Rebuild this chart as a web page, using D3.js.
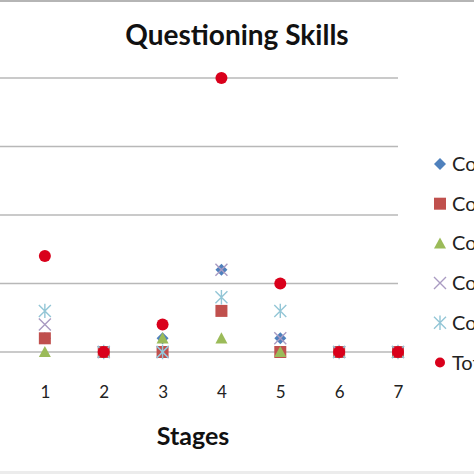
<!DOCTYPE html>
<html>
<head>
<meta charset="utf-8">
<script src="https://cdn.jsdelivr.net/npm/d3@7"></script>
<style>
  body { margin: 0; background: #fff; }
  svg { display: block; }
</style>
</head>
<body>
<svg width="474" height="474"></svg>
<script>
let stages = [1, 2, 3, 4, 5, 6, 7]
let seriesNames = ['Code 1', 'Code 2', 'Code 3', 'Code 4', 'Code 5', 'Total']
let code1 = [1, 0, 1, 6, 1, 0, 0]
let code2 = [1, 0, 0, 3, 0, 0, 0]
let code3 = [0, 0, 1, 1, 0, 0, 0]
let code4 = [2, 0, 0, 6, 1, 0, 0]
let code5 = [3, 0, 0, 4, 3, 0, 0]
let total = [7, 0, 2, 20, 5, 0, 0]
let yTicks = [0, 5, 10, 15, 20]

let width = 474
let height = 474
let margin = { top: 78, bottom: 122, left: -14, right: 76 }

let seriesValues = [code1, code2, code3, code4, code5, total]
let symbols = ['diamond', 'square', 'triangle', 'cross', 'asterisk', 'circle']
let colors = ['#4F81BD', '#C0504D', '#9BBB59', '#A99BC2', '#93C6D6', '#D9001B']
let font = 'Lato, "Open Sans", sans-serif'

let xScale = d3.scaleLinear()
  .domain([0, 7])
  .range([margin.left, width - margin.right])

let yScale = d3.scaleLinear()
  .domain([0, 20])
  .range([height - margin.bottom, margin.top])

let svg = d3.select('svg')

// frame of the figure
svg.append('line')
  .attr('x1', 0).attr('x2', width)
  .attr('y1', 1).attr('y2', 1)
  .attr('stroke', '#b5b5b5')
  .attr('stroke-width', 2)
svg.append('line')
  .attr('x1', 0).attr('x2', width)
  .attr('y1', 472.5).attr('y2', 472.5)
  .attr('stroke', '#ececec')
  .attr('stroke-width', 3)

// gridlines
svg.append('g')
  .selectAll('line')
  .data(yTicks)
  .enter()
  .append('line')
  .attr('x1', margin.left)
  .attr('x2', width - margin.right)
  .attr('y1', d => yScale(d))
  .attr('y2', d => yScale(d))
  .attr('stroke', '#b8b8b8')
  .attr('stroke-width', 1.3)

// x axis labels
let xAxis = d3.axisBottom(xScale)
  .tickValues(stages)
  .tickFormat(d3.format('d'))
  .tickSize(0)
  .tickPadding(0)
let gx = svg.append('g')
  .attr('transform', `translate(0, ${yScale(0) + 46})`)
  .call(xAxis)
gx.select('.domain').remove()
gx.selectAll('text')
  .attr('font-family', font)
  .attr('font-size', 17)
  .attr('fill', '#222')
  .attr('dy', 0)

// title and axis title
svg.append('text')
  .attr('x', 237)
  .attr('y', 45)
  .attr('text-anchor', 'middle')
  .attr('font-family', font)
  .attr('font-weight', 'bold')
  .attr('font-size', 28)
  .attr('fill', '#111')
  .text('Questioning Skills')

svg.append('text')
  .attr('x', 193)
  .attr('y', 445)
  .attr('text-anchor', 'middle')
  .attr('font-family', font)
  .attr('font-weight', 'bold')
  .attr('font-size', 25)
  .attr('fill', '#111')
  .text('Stages')

// marker drawing
function marker(g, type, color, s) {
  if (type === 'diamond') {
    g.append('path').attr('d', `M0,${-s}L${s},0L0,${s}L${-s},0Z`).attr('fill', color)
  } else if (type === 'square') {
    g.append('rect').attr('x', -s).attr('y', -s).attr('width', 2 * s).attr('height', 2 * s)
      .attr('fill', color)
  } else if (type === 'triangle') {
    g.append('path').attr('d', `M0,${-s}L${s},${s * 0.85}L${-s},${s * 0.85}Z`).attr('fill', color)
  } else if (type === 'cross') {
    g.append('path').attr('d', `M${-s},${-s}L${s},${s}M${s},${-s}L${-s},${s}`)
      .attr('stroke', color).attr('stroke-width', 1.4).attr('fill', 'none')
  } else if (type === 'asterisk') {
    g.append('path').attr('d', `M${-s},${-s}L${s},${s}M${s},${-s}L${-s},${s}M0,${-s * 1.2}L0,${s * 1.2}`)
      .attr('stroke', color).attr('stroke-width', 1.4).attr('fill', 'none')
  } else {
    g.append('circle').attr('r', s).attr('fill', color)
  }
}

seriesValues.forEach((values, i) => {
  let g = svg.append('g')
  values.forEach((v, j) => {
    let m = g.append('g')
      .attr('transform', `translate(${xScale(stages[j])}, ${yScale(v)})`)
    marker(m, symbols[i], colors[i], 6)
  })
})

// legend
let legend = svg.append('g')
seriesNames.forEach((name, i) => {
  let y = 164 + i * 39.7
  let m = legend.append('g').attr('transform', `translate(440, ${y})`)
  marker(m, symbols[i], colors[i], i === 5 ? 5 : 6)
  legend.append('text')
    .attr('x', 452)
    .attr('y', y + 7)
    .attr('font-family', font)
    .attr('font-size', 20)
    .attr('fill', '#222')
    .text(name)
})
</script>
</body>
</html>
